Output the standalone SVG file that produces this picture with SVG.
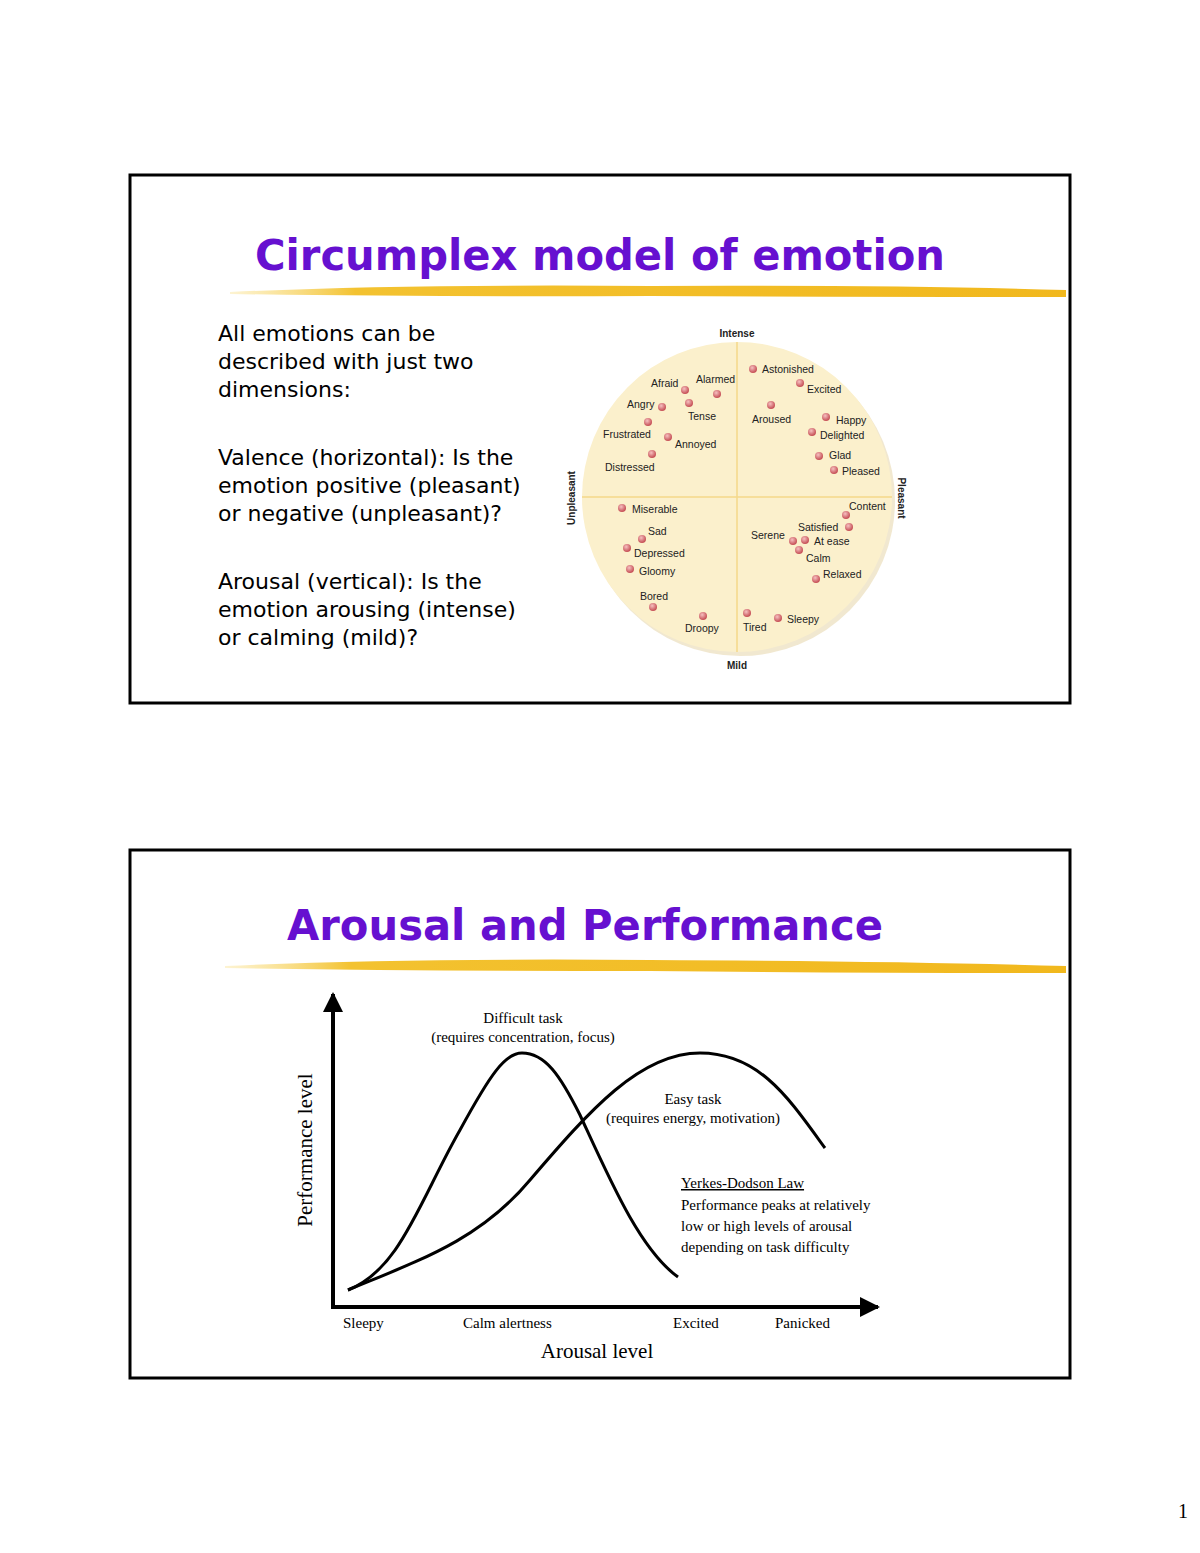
<svg xmlns="http://www.w3.org/2000/svg" width="1200" height="1553" viewBox="0 0 1200 1553">
<defs>
<radialGradient id="dg" cx="0.4" cy="0.35" r="0.6"><stop offset="0" stop-color="#f6c0c0"/><stop offset="1" stop-color="#c8545a"/></radialGradient>
<linearGradient id="yb" x1="0" x2="1"><stop offset="0" stop-color="#f8d86a" stop-opacity="0.3"/><stop offset="0.15" stop-color="#f3c230"/><stop offset="1" stop-color="#f1b81d"/></linearGradient>
<marker id="ah" viewBox="0 0 10 10" refX="9" refY="5" markerWidth="5" markerHeight="5" orient="auto"><path d="M0,0 L10,5 L0,10 Z" fill="#000"/></marker>
</defs>
<style>
.frame{fill:#fff;stroke:#000;stroke-width:3}
.title{font-family:"DejaVu Sans",sans-serif;font-weight:bold;font-size:42px;fill:#6610d0}
.body{font-family:"DejaVu Sans",sans-serif;font-size:22px;fill:#000}
.lab{font-family:"Liberation Sans",Arial,sans-serif;font-size:10.5px;fill:#222}
.axl{font-family:"Liberation Sans",Arial,sans-serif;font-size:10px;font-weight:bold;fill:#222}
.ser{font-family:"Liberation Serif","Times New Roman",serif;fill:#000}
.dot{fill:url(#dg)}
.curve{fill:none;stroke:#000;stroke-width:3}
</style>
<rect width="1200" height="1553" fill="#fff"/>
<g id="slide1">
<rect class="frame" x="130" y="175" width="940" height="528"/>
<text class="title" x="255" y="270" textLength="690" lengthAdjust="spacingAndGlyphs">Circumplex model of emotion</text>
<path d="M230,292 Q400,284 650,286 Q900,285 1066,290 L1066,297 Q850,297 650,296 Q420,297 230,294 Z" fill="url(#yb)"/>
<g class="body">
<text x="218" y="341">All emotions can be</text>
<text x="218" y="369">described with just two</text>
<text x="218" y="397">dimensions:</text>
<text x="218" y="465">Valence (horizontal): Is the</text>
<text x="218" y="493">emotion positive (pleasant)</text>
<text x="218" y="521">or negative (unpleasant)?</text>
<text x="218" y="589">Arousal (vertical): Is the</text>
<text x="218" y="617">emotion arousing (intense)</text>
<text x="218" y="645">or calming (mild)?</text>
</g>
<g id="circumplex">
<circle cx="740" cy="501" r="155" fill="#e8d9b0" opacity="0.6"/>
<circle cx="737" cy="497" r="155" fill="#fbf0cc"/>
<line x1="737" y1="342" x2="737" y2="652" stroke="#f5d98a" stroke-width="1.5"/>
<line x1="582" y1="497" x2="892" y2="497" stroke="#f5d98a" stroke-width="1.5"/>
<text class="axl" x="737" y="337" text-anchor="middle">Intense</text>
<text class="axl" x="737" y="669" text-anchor="middle">Mild</text>
<text class="axl" transform="translate(575,498) rotate(-90)" text-anchor="middle">Unpleasant</text>
<text class="axl" transform="translate(898,498) rotate(90)" text-anchor="middle">Pleasant</text>
<g>
<circle class="dot" cx="753" cy="369" r="4"/><circle class="dot" cx="800" cy="383" r="4"/>
<circle class="dot" cx="685" cy="390" r="4"/><circle class="dot" cx="717" cy="394" r="4"/>
<circle class="dot" cx="662" cy="407" r="4"/><circle class="dot" cx="689" cy="403" r="4"/>
<circle class="dot" cx="771" cy="405" r="4"/><circle class="dot" cx="826" cy="417" r="4"/>
<circle class="dot" cx="648" cy="422" r="4"/><circle class="dot" cx="812" cy="432" r="4"/>
<circle class="dot" cx="668" cy="437" r="4"/><circle class="dot" cx="652" cy="454" r="4"/>
<circle class="dot" cx="819" cy="456" r="4"/><circle class="dot" cx="834" cy="470" r="4"/>
<circle class="dot" cx="622" cy="508" r="4"/><circle class="dot" cx="846" cy="515" r="4"/>
<circle class="dot" cx="849" cy="527" r="4"/><circle class="dot" cx="642" cy="539" r="4"/>
<circle class="dot" cx="793" cy="541" r="4"/><circle class="dot" cx="805" cy="540" r="4"/>
<circle class="dot" cx="627" cy="548" r="4"/><circle class="dot" cx="799" cy="550" r="4"/>
<circle class="dot" cx="630" cy="569" r="4"/><circle class="dot" cx="816" cy="579" r="4"/>
<circle class="dot" cx="653" cy="607" r="4"/><circle class="dot" cx="703" cy="616" r="4"/>
<circle class="dot" cx="747" cy="613" r="4"/><circle class="dot" cx="778" cy="618" r="4"/>
</g>
<g class="lab">
<text x="762" y="373">Astonished</text><text x="807" y="393">Excited</text>
<text x="651" y="387">Afraid</text><text x="696" y="383">Alarmed</text>
<text x="627" y="408">Angry</text><text x="688" y="420">Tense</text>
<text x="752" y="423">Aroused</text><text x="836" y="424">Happy</text>
<text x="603" y="438">Frustrated</text><text x="820" y="439">Delighted</text>
<text x="675" y="448">Annoyed</text><text x="605" y="471">Distressed</text>
<text x="829" y="459">Glad</text><text x="842" y="475">Pleased</text>
<text x="632" y="513">Miserable</text><text x="849" y="510">Content</text>
<text x="798" y="531">Satisfied</text><text x="648" y="535">Sad</text>
<text x="751" y="539">Serene</text><text x="814" y="545">At ease</text>
<text x="634" y="557">Depressed</text><text x="806" y="562">Calm</text>
<text x="639" y="575">Gloomy</text><text x="823" y="578">Relaxed</text>
<text x="640" y="600">Bored</text><text x="685" y="632">Droopy</text>
<text x="743" y="631">Tired</text><text x="787" y="623">Sleepy</text>
</g>
</g>
</g>
<g id="slide2">
<rect class="frame" x="130" y="850" width="940" height="528"/>
<text class="title" x="287" y="940" textLength="596" lengthAdjust="spacingAndGlyphs">Arousal and Performance</text>
<path d="M225,966 Q400,958 650,960 Q900,961 1066,966 L1066,973 Q850,973 650,971 Q420,971 225,968 Z" fill="url(#yb)"/>
<g id="connectors">
<line x1="333" y1="1308" x2="333" y2="994" stroke="#000" stroke-width="4" marker-end="url(#ah)"/>
<line x1="331" y1="1307" x2="878" y2="1307" stroke="#000" stroke-width="4" marker-end="url(#ah)"/>
<path class="curve" d="M348,1290 C400,1270 420,1200 460,1130 C490,1075 505,1053 522,1053 C545,1053 560,1075 580,1115 C610,1180 640,1250 678,1277"/>
<path class="curve" d="M348,1290 C420,1260 480,1240 530,1180 C590,1110 640,1053 700,1053 C760,1053 790,1100 825,1148"/>
</g>
<g class="ser" font-size="15">
<text x="523" y="1023" text-anchor="middle">Difficult task</text>
<text x="523" y="1042" text-anchor="middle">(requires concentration, focus)</text>
<text x="693" y="1104" text-anchor="middle">Easy task</text>
<text x="693" y="1123" text-anchor="middle">(requires energy, motivation)</text>
<text x="681" y="1188" text-decoration="underline">Yerkes-Dodson Law</text>
<text x="681" y="1210">Performance peaks at relatively</text>
<text x="681" y="1231">low or high levels of arousal</text>
<text x="681" y="1252">depending on task difficulty</text>
<text x="343" y="1328">Sleepy</text>
<text x="463" y="1328">Calm alertness</text>
<text x="673" y="1328">Excited</text>
<text x="775" y="1328">Panicked</text>
<text x="597" y="1358" font-size="21" text-anchor="middle">Arousal level</text>
<text transform="translate(312,1150) rotate(-90)" font-size="21" text-anchor="middle">Performance level</text>
</g>
</g>
<text class="ser" x="1178" y="1518" font-size="20">1</text>
</svg>
